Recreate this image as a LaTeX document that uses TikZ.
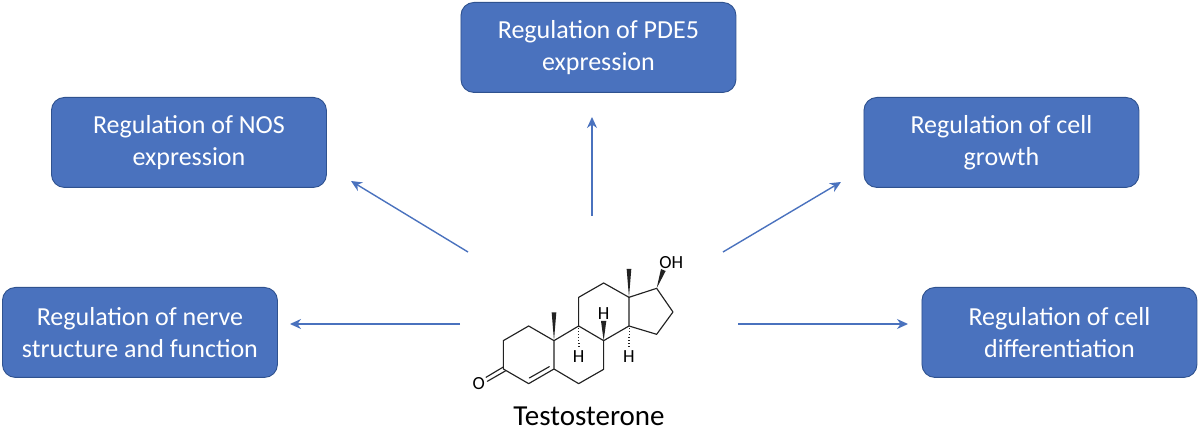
\documentclass[tikz,border=0pt]{standalone}
\usepackage{fontspec}
\setmainfont{Carlito}
\usetikzlibrary{arrows.meta,calc}
\definecolor{boxfill}{HTML}{4A72BE}
\definecolor{boxline}{HTML}{2F528F}
\definecolor{arrowcol}{HTML}{4A72BE}
\definecolor{bond}{HTML}{222222}
\tikzset{
  x=1pt,y=-1pt,
  bluebox/.style={draw=boxline,line width=0.9pt,fill=boxfill,rounded corners=13pt,minimum width=275pt,minimum height=90pt,inner sep=0pt,text=white,font=\fontsize{26}{31.8}\selectfont,align=center,anchor=north west},
  link/.style={draw=arrowcol,line width=1.4pt,-{Stealth[length=11pt,width=10pt]}},
  bondline/.style={draw=bond,line width=1.15pt,line cap=round,line join=round},
  atom/.style={font=\fontsize{18.5}{18.5}\selectfont,text=black,inner sep=0pt},
}
\newcommand{\hashbond}[2]{%
  \foreach \t/\w in {0.08/0.6,0.22/1.0,0.36/1.4,0.5/1.8,0.64/2.2,0.78/2.6,0.92/3.0}{%
    \fill[bond] ($(#1)!\t!(#2)+(-\w,-0.6)$) rectangle ($(#1)!\t!(#2)+(\w,0.6)$);}}
\begin{document}
\begin{tikzpicture}
\useasboundingbox (0,0) rectangle (1200,430);
\node[bluebox] (nos) at (51,97) {Regulation of NOS\\expression};
\node[bluebox] (nerve) at (2,287) {Regulation of nerve\\structure and function};
\node[bluebox] (pde) at (460.5,2) {Regulation of PDE5\\expression};
\node[bluebox] (growth) at (863.5,97) {Regulation of cell\\growth};
\node[bluebox] (diff) at (921.5,287) {Regulation of cell\\differentiation};

\coordinate (hubnos) at (468,252); \coordinate (tipnos) at (351,181);
\coordinate (hubnerve) at (460,324); \coordinate (tipnerve) at (290,324);
\coordinate (hubpde) at (592,216); \coordinate (tippde) at (592,117);
\coordinate (hubgrowth) at (723,252); \coordinate (tipgrowth) at (841,182);
\coordinate (hubdiff) at (738,324); \coordinate (tipdiff) at (908,324);
\draw[link] (hubnos) -- (tipnos);
\draw[link] (hubnerve) -- (tipnerve);
\draw[link] (hubpde) -- (tippde);
\draw[link] (hubgrowth) -- (tipgrowth);
\draw[link] (hubdiff) -- (tipdiff);

\begin{scope}[shift={(460,235)},x=0.3333pt,y=-0.3333pt]
\coordinate (c1) at (206,273); \coordinate (c2) at (130,317); \coordinate (c3) at (130,402);
\coordinate (c4) at (206,446); \coordinate (c5) at (282,402); \coordinate (c10) at (282,317);
\coordinate (c6) at (356,446); \coordinate (c7) at (431,403); \coordinate (c8) at (431,317);
\coordinate (c9) at (356,273); \coordinate (c11) at (356,187); \coordinate (c12) at (431,144);
\coordinate (c13) at (507,187); \coordinate (c14) at (507,273); \coordinate (c17) at (590,160);
\coordinate (c16) at (639,231); \coordinate (c15) at (590,298);
\draw[bondline] (c10) -- (c1) -- (c2) -- (c3) -- (c4) -- (c5) -- (c10) -- (c9) -- (c8) -- (c7) -- (c6) -- (c5);
\draw[bondline] (c9) -- (c11) -- (c12) -- (c13) -- (c14) -- (c8);
\draw[bondline] (c13) -- (c17) -- (c16) -- (c15) -- (c14);
\draw[bondline] (208,429) -- (268,395);
\draw[bondline] (130,396) -- (78,427);
\draw[bondline] (136,408) -- (82,439);
\node[atom] (oxy) at (56,447) {O};
\node[atom] (oh) at (634,82) {OH};
\fill[bond] (c10) -- (275,232) -- (289,232) -- cycle;
\fill[bond] (c13) -- (500,102) -- (514,102) -- cycle;
\fill[bond] (c17) -- (603,102) -- (617,108) -- cycle;
\fill[bond] (c8) -- (423,258) -- (439,258) -- cycle;
\coordinate (h9end) at (356,340); \coordinate (h14end) at (507,340);
\hashbond{c9}{h9end}
\hashbond{c14}{h14end}
\node[atom] (h8) at (431,235) {H};
\node[atom] (h9) at (356,365) {H};
\node[atom] (h14) at (507,365) {H};
\end{scope}
\node[font=\fontsize{29}{32}\selectfont,text=black,inner sep=0pt] (testo) at (589,416) {Testosterone};
\end{tikzpicture}
\end{document}
